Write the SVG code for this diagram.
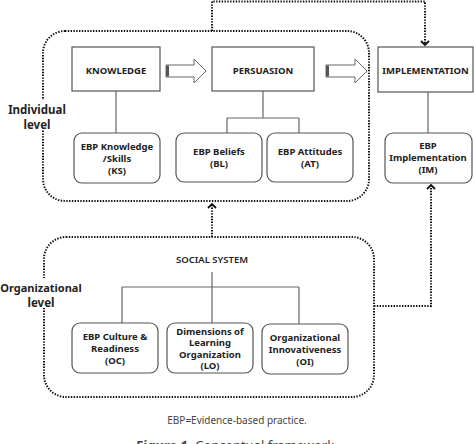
<svg xmlns="http://www.w3.org/2000/svg" width="474" height="444" viewBox="0 0 474 444">
<defs>
<style>
.box{fill:#fff;stroke:#555;stroke-width:1.2}
.ln{fill:none;stroke:#666;stroke-width:1.2}
.dot{fill:none;stroke:#111;stroke-width:2;stroke-dasharray:1.4 1.4}
.t{font-family:"Noto Sans","Noto Sans CJK KR",sans-serif;font-weight:bold;font-size:9.5px;fill:#222;text-anchor:middle}
.lvl{font-family:"Noto Sans","Noto Sans CJK KR",sans-serif;font-weight:bold;font-size:11.5px;fill:#222;text-anchor:middle}
.cap{font-family:"Noto Sans","Noto Sans CJK KR",sans-serif;font-size:10px;fill:#444;text-anchor:middle}
.harrow{fill:#fff;stroke:#666;stroke-width:1}
</style>
<marker id="ah" markerWidth="10" markerHeight="10" refX="5" refY="5" orient="auto" markerUnits="userSpaceOnUse">
<polyline points="1,1 5,5 1,9" fill="none" stroke="#111" stroke-width="1.8"/>
</marker>
</defs>
<rect width="474" height="444" fill="#fff"/>

<g id="individual-level">
<rect x="43" y="31" width="326" height="170" rx="22" class="dot"/>
<rect x="2" y="100" width="72" height="30" fill="#fff"/>
<text class="lvl" x="37" y="114">Individual</text>
<text class="lvl" x="37" y="128.5">level</text>
</g>
<g id="organizational-level">
<rect x="44" y="237" width="330" height="160" rx="22" class="dot"/>
<rect x="0" y="278" width="82" height="30" fill="#fff"/>
<text class="lvl" x="41" y="292" style="font-size:11px">Organizational</text>
<text class="lvl" x="41" y="306.5">level</text>
</g>

<g id="connectors">
<path class="dot" d="M212,31 V1.5 H425 V45" marker-end="url(#ah)"/>
<path class="dot" d="M212,237 V204" marker-end="url(#ah)"/>
<path class="dot" d="M374,306 H431 V185" marker-end="url(#ah)"/>
<path class="ln" d="M116,91 V133"/>
<path class="ln" d="M263,91 V118 M227,118 H299 M227,118 V133 M299,118 V133"/>
<path class="ln" d="M428,92 V133"/>
<path class="ln" d="M212,272 V323 M122,287 H299 M122,287 V323 M299,287 V324"/>
<path class="harrow" d="M166,65 H194 V59 L206,71 L194,83 V77 H166 Z"/>
<rect x="166" y="65.5" width="3" height="11" fill="#555"/>
<path class="harrow" d="M326,65 H355 V59 L367,71 L355,83 V77 H326 Z"/>
<rect x="326" y="65.5" width="3" height="11" fill="#555"/>
</g>

<g id="knowledge">
<rect class="box" x="72" y="47" width="88" height="44"/>
<text class="t" x="116" y="73.5">KNOWLEDGE</text>
</g>
<g id="persuasion">
<rect class="box" x="212" y="47" width="102" height="44"/>
<text class="t" x="263" y="73.5">PERSUASION</text>
</g>
<g id="implementation">
<rect class="box" x="378" y="47" width="95" height="45"/>
<text class="t" x="425.5" y="73.5">IMPLEMENTATION</text>
</g>
<g id="ks">
<rect class="box" x="74" y="133" width="86" height="50" rx="8"/>
<text class="t" x="117" y="150">EBP Knowledge</text>
<text class="t" x="117" y="162">/Skills</text>
<text class="t" x="117" y="174">(KS)</text>
</g>
<g id="bl">
<rect class="box" x="176" y="133" width="86" height="49" rx="8"/>
<text class="t" x="219" y="155">EBP Beliefs</text>
<text class="t" x="219" y="167">(BL)</text>
</g>
<g id="at">
<rect class="box" x="267" y="133" width="86" height="49" rx="8"/>
<text class="t" x="310" y="155">EBP Attitudes</text>
<text class="t" x="310" y="167">(AT)</text>
</g>
<g id="im">
<rect class="box" x="385" y="133" width="87" height="50" rx="8"/>
<text class="t" x="428" y="149">EBP</text>
<text class="t" x="428" y="161">Implementation</text>
<text class="t" x="428" y="173">(IM)</text>
</g>
<g id="social-system">
<text class="t" x="212" y="263" style="font-weight:600">SOCIAL SYSTEM</text>
</g>
<g id="oc">
<rect class="box" x="72" y="323" width="86" height="50" rx="8"/>
<text class="t" x="115" y="340">EBP Culture &amp;</text>
<text class="t" x="115" y="352">Readiness</text>
<text class="t" x="115" y="364">(OC)</text>
</g>
<g id="lo">
<rect class="box" x="167" y="323" width="86" height="50" rx="8"/>
<text class="t" x="210" y="334.5">Dimensions of</text>
<text class="t" x="210" y="346">Learning</text>
<text class="t" x="210" y="357.5">Organization</text>
<text class="t" x="210" y="369">(LO)</text>
</g>
<g id="oi">
<rect class="box" x="262" y="324" width="86" height="50" rx="8"/>
<text class="t" x="305" y="341">Organizational</text>
<text class="t" x="305" y="353">Innovativeness</text>
<text class="t" x="305" y="365">(OI)</text>
</g>

<g id="caption">
<text class="cap" x="237" y="424">EBP=Evidence-based practice.</text>
<text class="cap" x="237" y="450" style="font-size:13px"><tspan font-weight="bold">Figure 1.</tspan> Conceptual framework.</text>
</g>
</svg>
